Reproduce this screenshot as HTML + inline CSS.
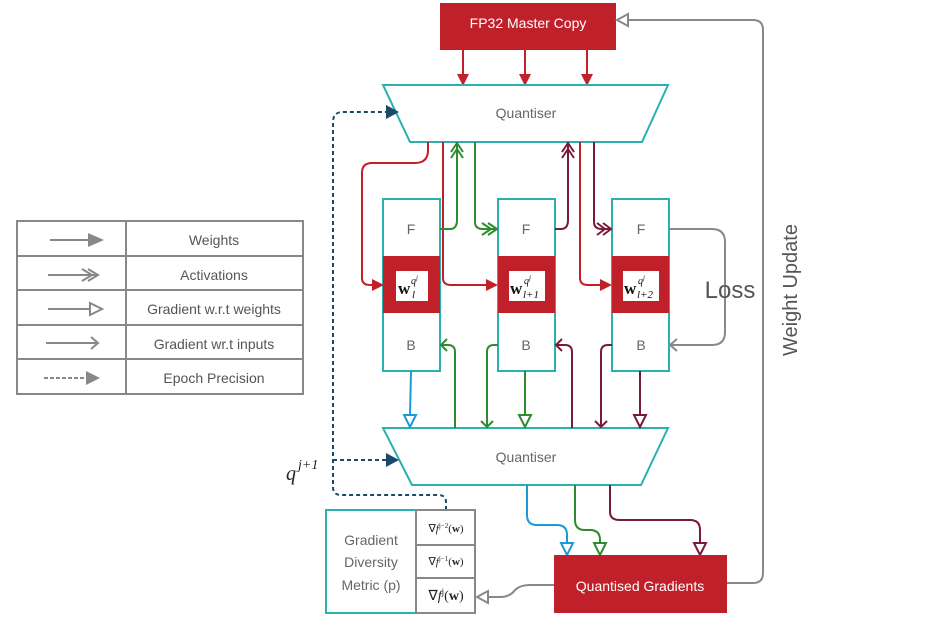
<!DOCTYPE html>
<html><head><meta charset="utf-8"><style>
html,body{margin:0;padding:0;background:#fff;}
svg{display:block;}
text{font-family:"Liberation Sans",sans-serif;}
text.m{font-family:"Liberation Serif",serif;}
</style></head><body>
<svg width="940" height="641" viewBox="0 0 940 641" xmlns="http://www.w3.org/2000/svg">
<g fill="none" stroke-width="2">
<g stroke="#888" stroke-width="2">
<rect x="17" y="221" width="286" height="173"/>
<line x1="126" y1="221" x2="126" y2="394"/>
<line x1="17" y1="256" x2="303" y2="256"/>
<line x1="17" y1="290" x2="303" y2="290"/>
<line x1="17" y1="325" x2="303" y2="325"/>
<line x1="17" y1="359" x2="303" y2="359"/>
<line x1="50" y1="240" x2="90" y2="240"/>
<line x1="48" y1="275" x2="98" y2="275"/>
<polyline points="88,269 98,275 88,281"/><polyline points="82,269 92,275 82,281"/>
<line x1="48" y1="309" x2="90" y2="309"/>
<line x1="46" y1="343" x2="98" y2="343"/>
<polyline points="91,337 98,343 91,349"/>
<line x1="44" y1="378" x2="86" y2="378" stroke-dasharray="4,2"/>
</g>
<polygon points="88,233 104,240 88,247" fill="#888"/>
<polygon points="90,303 102,309 90,315" fill="#fff" stroke="#888"/>
<polygon points="86,371 100,378 86,385" fill="#888"/>
</g>
<g font-size="14" fill="#555" text-anchor="middle">
<text x="214" y="245">Weights</text>
<text x="214" y="280">Activations</text>
<text x="214" y="314">Gradient w.r.t weights</text>
<text x="214" y="349">Gradient wr.t inputs</text>
<text x="214" y="383">Epoch Precision</text>
</g>

<rect x="440" y="3" width="176" height="47" fill="#c0202a"/>
<text x="528" y="28" font-size="14" fill="#fff" text-anchor="middle">FP32 Master Copy</text>
<g stroke="#c0202a" stroke-width="2"><line x1="463" y1="50" x2="463" y2="76"/><line x1="525" y1="50" x2="525" y2="76"/><line x1="587" y1="50" x2="587" y2="76"/></g>
<g fill="#c0202a"><polygon points="457,74 469,74 463,86"/><polygon points="519,74 531,74 525,86"/><polygon points="581,74 593,74 587,86"/></g>

<polygon points="383,85 668,85 642,142 410,142" fill="#fff" stroke="#2bb0b0" stroke-width="2"/>
<text x="526" y="118" font-size="14" fill="#666" text-anchor="middle">Quantiser</text>
<polygon points="383,428 668,428 641,485 412,485" fill="#fff" stroke="#2bb0b0" stroke-width="2"/>
<text x="526" y="462" font-size="14" fill="#666" text-anchor="middle">Quantiser</text>

<g stroke="#2bb0b0" stroke-width="2" fill="#fff">
<rect x="383" y="199" width="57" height="172"/>
<rect x="498" y="199" width="57" height="172"/>
<rect x="612" y="199" width="57" height="172"/>
</g>
<g fill="#c0202a"><rect x="383" y="256" width="57" height="57"/><rect x="498" y="256" width="57" height="57"/><rect x="612" y="256" width="57" height="57"/></g>
<g fill="#fff"><rect x="396" y="271" width="32" height="30"/><rect x="509" y="271" width="36" height="30"/><rect x="623" y="271" width="36" height="30"/></g>
<g fill="#111">
<text class="m" x="398" y="294" font-size="17" font-weight="bold">w</text>
<text class="m" x="411" y="284" font-size="10" font-style="italic">q<tspan font-size="7" dy="-4">j</tspan></text>
<text class="m" x="412" y="298" font-size="11" font-style="italic">l</text>
<text class="m" x="510" y="294" font-size="17" font-weight="bold">w</text>
<text class="m" x="524" y="284" font-size="10" font-style="italic">q<tspan font-size="7" dy="-4">j</tspan></text>
<text class="m" x="523" y="298" font-size="11" font-style="italic">l+1</text>
<text class="m" x="624" y="294" font-size="17" font-weight="bold">w</text>
<text class="m" x="638" y="284" font-size="10" font-style="italic">q<tspan font-size="7" dy="-4">j</tspan></text>
<text class="m" x="637" y="298" font-size="11" font-style="italic">l+2</text>
</g>
<g font-size="14" fill="#666" text-anchor="middle">
<text x="411" y="234">F</text><text x="526" y="234">F</text><text x="641" y="234">F</text>
<text x="411" y="350">B</text><text x="526" y="350">B</text><text x="641" y="350">B</text>
</g>

<g fill="none" stroke-width="2">
<g stroke="#c0202a">
<path d="M428,142 V150 Q428,163 415,163 H372 Q362,163 362,173 V278 Q362,285 370,285 H376"/>
<path d="M443,142 V278 Q443,285 451,285 H490"/>
<path d="M580,142 V278 Q580,285 588,285 H604"/>
</g>
<g stroke="#2e8b2e">
<path d="M440,229 H450 Q457,229 457,220 V142"/>
<polyline points="451,152 457,143 463,152"/><polyline points="451,158 457,149 463,158"/>
<path d="M475,142 V222 Q475,229 483,229 H497"/>
<polyline points="488,223 497,229 488,235"/><polyline points="482,223 491,229 482,235"/>
<path d="M455,428 V352 Q455,345 448,345 H441"/>
<polyline points="447,339 441,345 447,351"/>
<path d="M498,345 H494 Q487,345 487,352 V427"/>
<polyline points="481,421 487,427 493,421"/>
<line x1="525" y1="371" x2="525" y2="416"/>
<path d="M575,485 V520 Q575,530 585,530 H590 Q600,530 600,540 V545"/>
</g>
<g stroke="#7a1a3a">
<path d="M555,229 H561 Q568,229 568,220 V142"/>
<polyline points="562,152 568,143 574,152"/><polyline points="562,158 568,149 574,158"/>
<path d="M594,142 V222 Q594,229 602,229 H611"/>
<polyline points="603,223 611,229 603,235"/><polyline points="597,223 605,229 597,235"/>
<path d="M572,428 V352 Q572,345 565,345 H556"/>
<polyline points="562,339 556,345 562,351"/>
<path d="M612,345 H608 Q601,345 601,352 V427"/>
<polyline points="595,421 601,427 607,421"/>
<line x1="640" y1="371" x2="640" y2="416"/>
<path d="M610,485 V512 Q610,520 620,520 H690 Q700,520 700,530 V545"/>
</g>
<g stroke="#1a9ad6">
<line x1="411" y1="371" x2="410" y2="416"/>
<path d="M527,485 V515 Q527,525 537,525 H557 Q567,525 567,535 V545"/>
</g>
<g stroke="#888">
<path d="M669,229 H712 Q725,229 725,242 V332 Q725,345 712,345 H670"/>
<polyline points="677,339 670,345 677,351"/>
<path d="M727,583 H753 Q763,583 763,573 V30 Q763,20 753,20 H628"/>
<path d="M554,585 H530 Q520,585 515,590 Q510,597 500,597 H488"/>
</g>
<g stroke="#1a4a6a" stroke-dasharray="4,3">
<path d="M446,510 V502 Q446,495 438,495 H341 Q333,495 333,487 V122 Q333,112 343,112 H386"/>
<path d="M333,460 H386"/>
</g>
</g>
<g fill="#c0202a"><polygon points="372,279 384,285 372,291"/><polygon points="486,279 498,285 486,291"/><polygon points="600,279 612,285 600,291"/></g>
<g fill="#1a4a6a"><polygon points="386,105 399,112 386,119"/><polygon points="386,453 399,460 386,467"/></g>
<g fill="#fff" stroke-width="2">
<polygon points="404,415 416,415 410,427" stroke="#1a9ad6"/>
<polygon points="519,415 531,415 525,427" stroke="#2e8b2e"/>
<polygon points="634,415 646,415 640,427" stroke="#7a1a3a"/>
<polygon points="561,543 573,543 567,555" stroke="#1a9ad6"/>
<polygon points="594,543 606,543 600,555" stroke="#2e8b2e"/>
<polygon points="694,543 706,543 700,555" stroke="#7a1a3a"/>
<polygon points="628,14 628,26 617,20" stroke="#888"/>
<polygon points="488,591 488,603 477,597" stroke="#888"/>
</g>

<text x="730" y="298" font-size="24" fill="#555" text-anchor="middle">Loss</text>
<text transform="translate(797,290) rotate(-90)" font-size="20" fill="#555" text-anchor="middle">Weight Update</text>

<text class="m" x="286" y="480" font-size="20" font-style="italic" fill="#222">q</text>
<text class="m" x="298" y="469" font-size="14" font-style="italic" fill="#222">j+1</text>

<rect x="326" y="510" width="90" height="103" fill="#fff" stroke="#2bb0b0" stroke-width="2"/>
<g stroke="#888" stroke-width="2" fill="#fff"><rect x="416" y="510" width="59" height="103"/><line x1="416" y1="545" x2="475" y2="545"/><line x1="416" y1="578" x2="475" y2="578"/></g>
<g font-size="14" fill="#666" text-anchor="middle"><text x="371" y="545">Gradient</text><text x="371" y="567">Diversity</text><text x="371" y="590">Metric (p)</text></g>
<g fill="#222" text-anchor="middle">
<text class="m" x="446" y="532" font-size="11">∇<tspan font-style="italic">f</tspan><tspan font-size="7" dy="-4">j−2</tspan><tspan dy="4">(<tspan font-weight="bold">w</tspan>)</tspan></text>
<text class="m" x="446" y="565" font-size="11">∇<tspan font-style="italic">f</tspan><tspan font-size="7" dy="-4">j−1</tspan><tspan dy="4">(<tspan font-weight="bold">w</tspan>)</tspan></text>
<text class="m" x="446" y="600" font-size="14">∇<tspan font-style="italic">f</tspan><tspan font-size="9" dy="-5">j</tspan><tspan dy="5">(<tspan font-weight="bold">w</tspan>)</tspan></text>
</g>

<rect x="554" y="555" width="173" height="58" fill="#c0202a"/>
<text x="640" y="591" font-size="14" fill="#fff" text-anchor="middle">Quantised Gradients</text>
</svg>
</body></html>
